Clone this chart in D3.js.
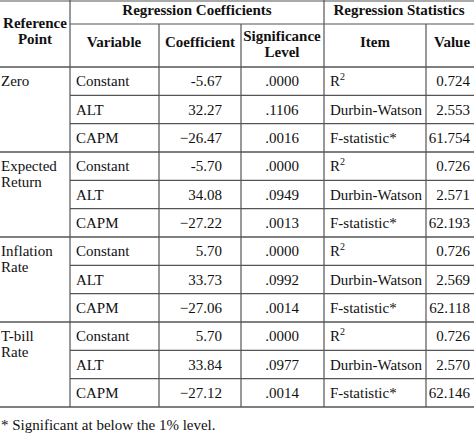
<!DOCTYPE html><html><head><meta charset="utf-8"><script src="https://cdn.jsdelivr.net/npm/d3@7"></script>
<style>body{margin:0;background:#fff}</style></head><body><svg id="c" width="474" height="434"></svg>
<script>
const refPoints=[["Zero"],["Expected","Return"],["Inflation","Rate"],["T-bill","Rate"]];
const variables=["Constant","ALT","CAPM"];
const coefficients=[[-5.67,32.27,-26.47],[-5.70,34.08,-27.22],[5.70,33.73,-27.06],[5.70,33.84,-27.12]];
const significance=[[".0000",".1106",".0016"],[".0000",".0949",".0013"],[".0000",".0992",".0014"],[".0000",".0977",".0014"]];
const items=["R2","Durbin-Watson","F-statistic*"];
const statValues=[[0.724,2.553,61.754],[0.726,2.571,62.193],[0.726,2.569,62.118],[0.726,2.570,62.146]];
const svg=d3.select("#c");
const F="'Liberation Serif', 'Times New Roman', serif";
const line="#555";
const y=d3.scaleBand().domain(d3.range(12)).range([67,407]);
function L(x1,y1,x2,y2,w=1.2){svg.append("line").attr("x1",x1).attr("y1",y1).attr("x2",x2).attr("y2",y2).attr("stroke",line).attr("stroke-width",w);}
function T(x,yy,s,anchor="start",bold=false){return svg.append("text").attr("x",x).attr("y",yy).attr("text-anchor",anchor).style("font-family",F).attr("font-size",15).attr("font-weight",bold?"bold":"normal").attr("fill","#111").text(s);}
L(0,1,474,1);L(70,24,474,24);L(0,67,474,67,1.5);
L(70,0,70,407);L(324,0,324,407);
[159,241,426].forEach(x=>L(x,24,x,407));
T(35,28,"Reference","middle",true);T(35,44,"Point","middle",true);
T(197,15,"Regression Coefficients","middle",true);
T(399,15,"Regression Statistics","middle",true);
T(114,47,"Variable","middle",true);T(200,47,"Coefficient","middle",true);
T(282,41,"Significance","middle",true);T(282,57,"Level","middle",true);
T(375,47,"Item","middle",true);T(452,47,"Value","middle",true);
const fmt=v=>(v<0?"\u2212":"")+Math.abs(v).toFixed(2);
refPoints.forEach((rp,g)=>{
  const y0=y(g*3);
  rp.forEach((s,i)=>T(1,y0+19+i*16,s));
  L(0,y0+y.bandwidth()*3,474,y0+y.bandwidth()*3,1.5);
  variables.forEach((v,i)=>{
    const r=g*3+i, yy=y(r)+y.bandwidth()/2+5;
    if(i>0)L(70,y(r),474,y(r));
    T(76,yy,v);
    T(222,yy,(g<2&&i==0)?"-"+Math.abs(coefficients[g][i]).toFixed(2):fmt(coefficients[g][i]),"end");
    T(282,yy,significance[g][i],"middle");
    if(items[i]==="R2"){const t=T(330,yy,"R");t.append("tspan").attr("dy",-6).attr("font-size",10).text("2");}
    else T(330,yy,items[i]);
    T(470,yy,statValues[g][i].toFixed(3),"end");
  });
});
T(1,430,"* Significant at below the 1% level.");
</script></body></html>
